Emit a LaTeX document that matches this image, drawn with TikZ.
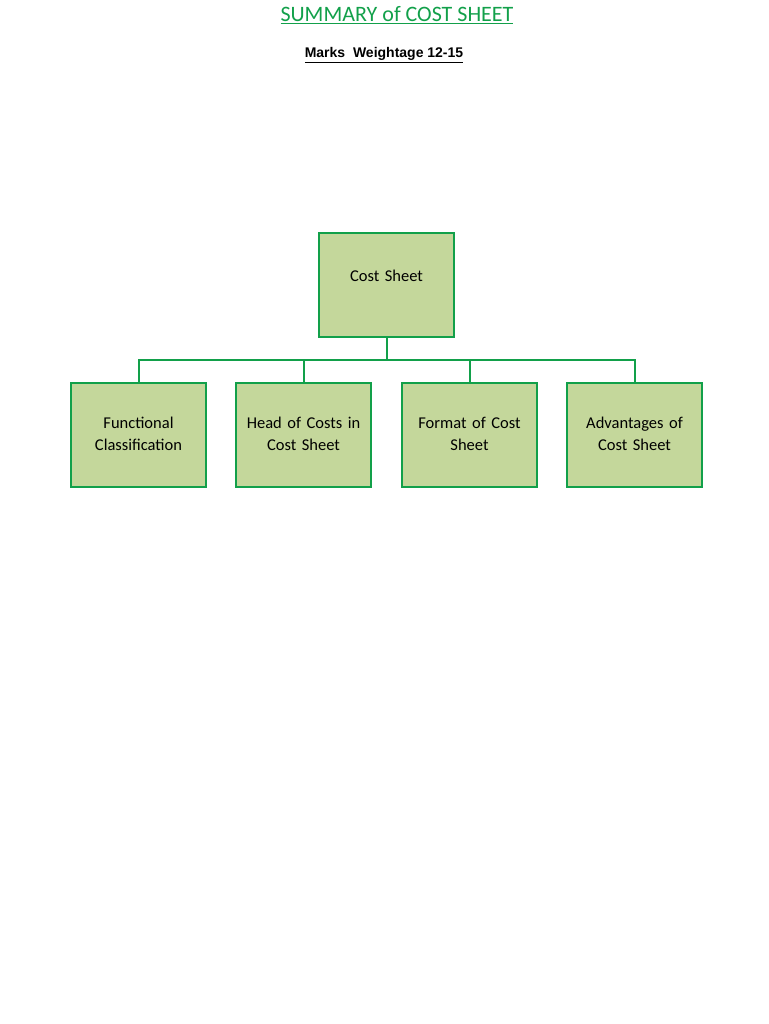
\documentclass[tikz,border=0pt]{standalone}
\usepackage{fontspec}
\setmainfont{Carlito}
\newfontfamily\arialf{Liberation Sans}
\definecolor{gline}{HTML}{12A04A}
\definecolor{gfill}{HTML}{C4D79B}
\newcommand{\myul}[1]{$\underline{\hbox{#1}}$}
\begin{document}
\begin{tikzpicture}[x=1pt,y=-1pt,
  box/.style={draw=gline,line width=2.2pt,fill=gfill,minimum width=135pt,minimum height=104pt,inner sep=0pt,align=center,font=\fontsize{16.5}{22}\selectfont,text width=132pt},
  conn/.style={draw=gline,line width=2pt}]
\useasboundingbox (0,0) rectangle (768,1024);
\node (title) at (397,15) {\fontsize{22}{26}\selectfont\color{gline}\myul{SUMMARY of COST SHEET}};
\node (sub) at (384,55) {\arialf\bfseries\fontsize{14}{17}\selectfont\myul{Marks\ \ Weightage 12-15}};
\node[box] (root) at (386.5,285) {\raisebox{18pt}{Cost Sheet}};
\node[box] (c1) at (138.5,435) {\raisebox{14pt}{\parbox{132pt}{\centering Functional\\Classification}}};
\node[box] (c2) at (303.5,435) {\raisebox{14pt}{\parbox{132pt}{\centering Head of Costs in\\Cost Sheet}}};
\node[box] (c3) at (469.5,435) {\raisebox{14pt}{\parbox{132pt}{\centering Format of Cost\\Sheet}}};
\node[box] (c4) at (634.5,435) {\raisebox{14pt}{\parbox{132pt}{\centering Advantages of\\Cost Sheet}}};
\coordinate (bus) at (386.5,360);
\draw[conn] (root.south) -- (bus);
\draw[conn] (c1.north) |- (bus) -| (c4.north);
\draw[conn] (c2.north) -- (c2.north |- bus);
\draw[conn] (c3.north) -- (c3.north |- bus);
\end{tikzpicture}
\end{document}
